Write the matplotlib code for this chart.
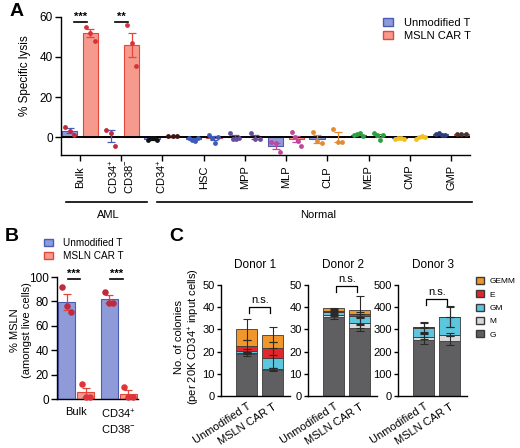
import numpy as np
import matplotlib
matplotlib.use("Agg")
from matplotlib import pyplot as plt
from matplotlib import transforms as mtrans
from matplotlib.patches import Patch

plt.rcParams["font.family"] = ["Liberation Sans", "DejaVu Sans"]
plt.rcParams["mathtext.fontset"] = "custom"
plt.rcParams["mathtext.rm"] = "Liberation Sans"
plt.rcParams["mathtext.it"] = "Liberation Sans:italic"
plt.rcParams["mathtext.bf"] = "Liberation Sans:bold"
plt.rcParams["axes.linewidth"] = 1.0

# ---- panel A: specific lysis ----
groups_a = ["Bulk", "CD34$^{+}$\nCD38$^{-}$", "CD34$^{+}$", "HSC", "MPP",
            "MLP", "CLP", "MEP", "CMP", "GMP"]
unmod_mean = [3.2, 0.3, -1.0, -1.0, 0.0, -4.3, -1.0, 1.2, -0.7, 1.4]
unmod_sem = [1.2, 3.0, 0.4, 0.4, 0.8, 1.5, 2.0, 0.4, 0.2, 0.3]
msln_mean = [52, 46, 0.4, -0.6, 0.0, -1.0, 0.0, 0.6, -0.1, 1.5]
msln_sem = [2.0, 6.0, 0.2, 1.0, 0.8, 1.5, 2.5, 0.8, 0.3, 0.1]
unmod_pts = [[5, 3, 1], [3.5, 2, -4.5], [-1.5, -0.5, -0.3, -1.5],
             [-0.5, -1.5, -1.8, -0.6], [2, -1, -1, -0.5], [-2.5, -3, -7.5],
             [2.5, -2, -3], [1, 1.5, 2, 0.5], [-1, -0.5, -0.3, -1],
             [1.5, 2, 1, 1]]
msln_pts = [[55, 52, 48], [56, 47, 35.5], [0.3, 0.5, 0.5], [1, -0.5, -3, 0],
            [2, -1, -1], [2.5, 0, -2, -4.5], [4, -2.5, -2.5], [2, 1, -1.5, 1],
            [-1, 0, 0.5, 0.2], [1.5, 1.5, 1.5]]
unmod_pt_colors = ["#c4283c", "#c4283c", "#111111", "#3d5bb8", "#6a4c9c",
                   "#c2459b", "#e58a2e", "#2ea043", "#f2c21b", "#2c3e7c"]
msln_pt_colors = ["#d8323a", "#d8323a", "#3a1515", "#3d5bb8", "#6a4c9c",
                  "#c2459b", "#e58a2e", "#2ea043", "#f2c21b", "#4a3434"]
sig_a = ["***", "**"]

# ---- panel B: % MSLN ----
groups_b = ["Bulk", "CD34$^{+}$\nCD38$^{-}$"]
b_unmod_mean = [79.5, 82.0]
b_unmod_sem = [6.5, 3.0]
b_unmod_pts = [[92, 76, 71], [88, 79, 79]]
b_msln_mean = [5.5, 4.0]
b_msln_sem = [3.5, 3.0]
b_msln_pts = [[12.5, 2, 2], [10, 1.5, 1.5]]

# ---- panel C: colonies (stack order G, M, GM, E, GEMM) ----
seg_names = ["G", "M", "GM", "E", "GEMM"]
seg_colors = ["#5f5e60", "#d9d9d9", "#5cc6de", "#e3262c", "#f0962b"]
donors = ["Donor 1", "Donor 2", "Donor 3"]
c_xlabels = ["Unmodified T", "MSLN CAR T"]
c_unmod = [[18.8, 0.6, 0.8, 2.2, 7.6],
           [35.5, 1.2, 1.0, 0.5, 1.3],
           [251, 17, 40, 1, 1]]
c_unmod_err = [[1.0, 0.3, 0.8, 3.0, 4.8],
               [1.0, 0.5, 0.8, 0.5, 0.3],
               [15, 10, 20, 1, 25]]
c_msln = [[11.9, 0.3, 4.7, 4.5, 6.3],
          [30.8, 2.3, 3.0, 0.7, 1.8],
          [250, 27, 78, 1, 2]]
c_msln_err = [[0.5, 0.3, 4.5, 3.0, 3.4],
              [1.5, 2.5, 1.0, 1.0, 6.5],
              [20, 8, 45, 1, 47]]
c_ymax = [50, 50, 500]
c_ns_y = [40, 49.5, 436]

unmod_fill, unmod_edge = "#8e9bd8", "#4b5cb8"
msln_fill, msln_edge = "#f59a8d", "#e2473c"

fig = plt.figure(figsize=(5.2, 4.48), dpi=100)


def scatter_pts(ax, xc, pts, color, spread, size):
    n = len(pts)
    xs = xc + np.linspace(-spread, spread, n) if n > 1 else [xc]
    ax.scatter(xs, pts, s=size, color=color, zorder=5, clip_on=False,
               linewidths=0)


# ================= A =================
axA = fig.add_axes([61 / 520, 1 - 155 / 448, 409 / 520, 138 / 448])
xa = np.arange(len(groups_a))
off, bw = 0.25, 0.37
for i in xa:
    axA.bar(i - off, unmod_mean[i], bw, color=unmod_fill, edgecolor=unmod_edge,
            linewidth=0.8, zorder=2)
    axA.bar(i + off, msln_mean[i], bw, color=msln_fill, edgecolor=msln_edge,
            linewidth=0.8, zorder=2)
    ecu = unmod_edge if i < 2 else unmod_pt_colors[i]
    ecm = msln_edge if i < 2 else msln_pt_colors[i]
    axA.errorbar(i - off, unmod_mean[i], yerr=unmod_sem[i], fmt="none",
                 ecolor=ecu, elinewidth=0.9, capsize=3, capthick=0.9, zorder=4)
    axA.errorbar(i + off, msln_mean[i], yerr=msln_sem[i], fmt="none",
                 ecolor=ecm, elinewidth=0.9, capsize=3, capthick=0.9, zorder=4)
    scatter_pts(axA, i - off, unmod_pts[i], unmod_pt_colors[i], 0.11, 12)
    scatter_pts(axA, i + off, msln_pts[i], msln_pt_colors[i], 0.11, 12)

axA.axhline(0, color="black", lw=1.4, zorder=3)
axA.set_xlim(-0.46, 9.46)
axA.set_ylim(-9, 60)
axA.set_yticks([0, 20, 40, 60])
axA.set_xticks(xa)
axA.set_xticklabels([])
axA.tick_params(axis="y", labelsize=8.5, length=4, width=1, pad=2)
axA.tick_params(axis="x", length=4, width=1)
for s in ["top", "right"]:
    axA.spines[s].set_visible(False)

tA = mtrans.blended_transform_factory(axA.transData, axA.transAxes)
for i, lab in enumerate(groups_a):
    axA.text(i, -0.16, lab, transform=tA, rotation=90, ha="center",
             va="center", fontsize=8, multialignment="left", clip_on=False)

for i, st in enumerate(sig_a):
    axA.plot([i - 0.14, i + 0.16], [57.6, 57.6], color="black", lw=1.2,
             clip_on=False)
    axA.text(i + 0.01, 57.8, st, ha="center", va="bottom", fontsize=8,
             fontweight="bold", clip_on=False)

axA.plot([-0.34, 1.63], [-0.34, -0.34], transform=tA, color="black", lw=1.2,
         clip_on=False)
axA.plot([1.88, 9.51], [-0.34, -0.34], transform=tA, color="black", lw=1.2,
         clip_on=False)
axA.text(0.68, -0.435, "AML", transform=tA, ha="center", va="center",
         fontsize=8)
axA.text(5.78, -0.435, "Normal", transform=tA, ha="center", va="center",
         fontsize=8)

fig.text(25 / 520, 1 - 76 / 448, "% Specific lysis", rotation=90,
         ha="center", va="center", fontsize=8.5)

legA = [Patch(facecolor=unmod_fill, edgecolor=unmod_edge, label="Unmodified T"),
        Patch(facecolor=msln_fill, edgecolor=msln_edge, label="MSLN CAR T")]
fig.legend(handles=legA, loc="upper left", bbox_to_anchor=(383 / 520, 1 - 18 / 448),
           frameon=False, fontsize=8, handlelength=0.9, handleheight=0.7,
           handletextpad=1.0, labelspacing=0.25, borderpad=0, borderaxespad=0)

# ================= B =================
axB = fig.add_axes([57 / 520, 1 - 399 / 448, 81 / 520, 122 / 448])
xb = np.arange(len(groups_b))
offb, bwb = 0.226, 0.4
axB.bar(xb - offb, b_unmod_mean, bwb, color=unmod_fill, edgecolor=unmod_edge,
        linewidth=0.8, zorder=2)
axB.bar(xb + offb, b_msln_mean, bwb, color=msln_fill, edgecolor=msln_edge,
        linewidth=0.8, zorder=2)
axB.errorbar(xb - offb, b_unmod_mean, yerr=b_unmod_sem, fmt="none",
             ecolor=msln_edge, elinewidth=0.9, capsize=3, capthick=0.9, zorder=4)
axB.errorbar(xb + offb, b_msln_mean, yerr=b_msln_sem, fmt="none",
             ecolor=msln_edge, elinewidth=0.9, capsize=3, capthick=0.9, zorder=4)
for i in xb:
    scatter_pts(axB, i - offb, b_unmod_pts[i], "#c4283c", 0.1, 22)
    scatter_pts(axB, i + offb, b_msln_pts[i], "#e0333a", 0.1, 22)
    axB.plot([i - 0.2, i + 0.1], [98.4, 98.4], color="black", lw=1.2,
             clip_on=False)
    axB.text(i - 0.05, 98.8, "***", ha="center", va="bottom", fontsize=8,
             fontweight="bold", clip_on=False)
axB.set_xlim(-0.45, 1.45)
axB.set_ylim(0, 100)
axB.set_yticks([0, 20, 40, 60, 80, 100])
axB.set_xticks(xb)
axB.set_xticklabels(groups_b, fontsize=8, multialignment="center")
axB.tick_params(axis="x", length=0, pad=6)
axB.tick_params(axis="y", labelsize=8.5, length=4, width=1, pad=2)
for s in ["top", "right"]:
    axB.spines[s].set_visible(False)
fig.text(21 / 520, 1 - 330 / 448, "% MSLN\n(amongst live cells)", rotation=90,
         ha="center", va="center", fontsize=8, multialignment="center")
fig.legend(handles=legA, loc="upper left", bbox_to_anchor=(44 / 520, 1 - 238 / 448),
           frameon=False, fontsize=7.2, handlelength=0.9, handleheight=0.7,
           handletextpad=1.0, labelspacing=0.3, borderpad=0, borderaxespad=0)

# ================= C =================
c_left = [221, 308, 398]
for d in range(3):
    ax = fig.add_axes([c_left[d] / 520, 1 - 396 / 448, 69 / 520, 111 / 448])
    for xi, (vals, errs) in enumerate([(c_unmod[d], c_unmod_err[d]),
                                       (c_msln[d], c_msln_err[d])]):
        bottom = 0.0
        for k in range(len(seg_names)):
            ax.bar(xi, vals[k], 0.8, bottom=bottom, color=seg_colors[k],
                   edgecolor="#3a3a3a", linewidth=0.6, zorder=2)
            bottom += vals[k]
            ax.errorbar(xi, bottom, yerr=errs[k], fmt="none", ecolor="#2a2a2a",
                        elinewidth=0.8, capsize=3, capthick=0.8, zorder=4)
    ym = c_ymax[d]
    ny = c_ns_y[d]
    ax.plot([0.1, 0.1, 0.9, 0.9], [ny - 0.055 * ym, ny, ny, ny - 0.055 * ym],
            color="black", lw=0.9, clip_on=False)
    ax.text(0.5, ny + 0.02 * ym, "n.s.", ha="center", va="bottom", fontsize=8,
            clip_on=False)
    ax.set_xlim(-0.98, 1.65)
    ax.set_ylim(0, ym)
    ax.set_yticks(np.linspace(0, ym, 6))
    ax.set_xticks([0, 1])
    ax.set_xticklabels(c_xlabels, rotation=33, ha="right",
                       rotation_mode="anchor", fontsize=8)
    ax.tick_params(axis="x", length=0, pad=4)
    ax.tick_params(axis="y", labelsize=8, length=3, width=1, pad=1.5)
    for s in ["top", "right"]:
        ax.spines[s].set_visible(False)
    ax.set_title(donors[d], fontsize=8.5, pad=12)

fig.text(188 / 520, 1 - 337 / 448,
         "No. of colonies\n(per 20K CD34$^{+}$ input cells)", rotation=90,
         ha="center", va="center", fontsize=8, multialignment="center")
legC = [Patch(facecolor=seg_colors[k], edgecolor="#3a3a3a", label=seg_names[k])
        for k in range(len(seg_names) - 1, -1, -1)]
fig.legend(handles=legC, loc="upper left", bbox_to_anchor=(476 / 520, 1 - 277 / 448),
           frameon=False, fontsize=6, handlelength=1.0, handleheight=0.9,
           handletextpad=0.6, labelspacing=0.6, borderpad=0, borderaxespad=0)

# panel letters
for lab, x, y in [("A", 17, 12), ("B", 12, 236), ("C", 176, 236)]:
    fig.text(x / 520, 1 - y / 448, lab, fontsize=14, fontweight="bold",
             ha="center", va="center")

fig.savefig("out.png", dpi=100)
